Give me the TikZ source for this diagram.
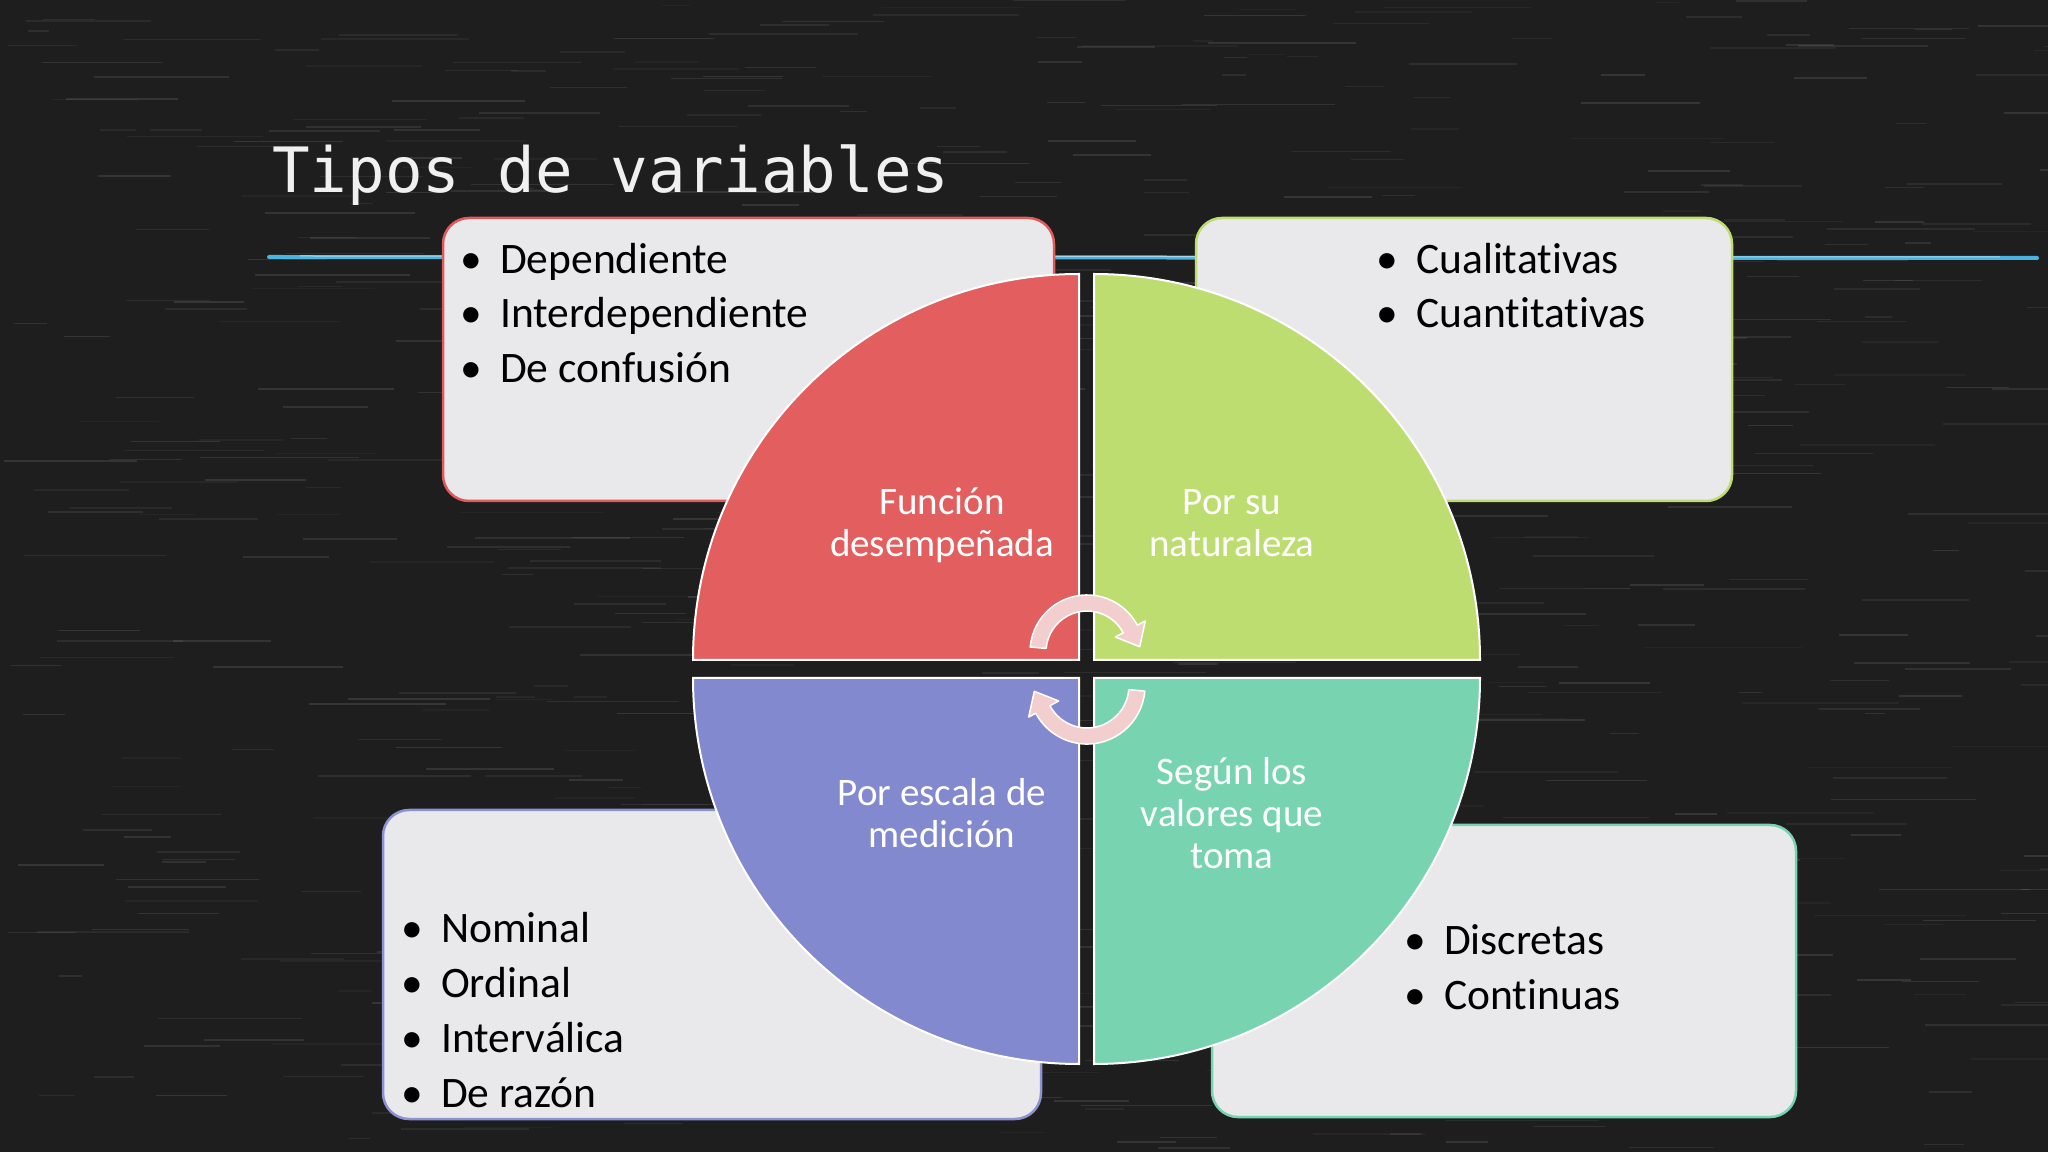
\documentclass[tikz,border=0pt]{standalone}
\usepackage{fontspec}
\setmainfont{Carlito}[Ligatures=NoCommon]
\newfontfamily\titlefont{DejaVu Sans Mono}
\definecolor{bgc}{RGB}{30,30,30}
\definecolor{redQ}{RGB}{227,94,94}
\definecolor{greenQ}{RGB}{190,221,112}
\definecolor{blueQ}{RGB}{131,137,206}
\definecolor{tealQ}{RGB}{120,212,176}
\definecolor{boxfill}{RGB}{233,233,235}
\definecolor{redB}{RGB}{224,90,90}
\definecolor{greenB}{RGB}{190,221,112}
\definecolor{blueB}{RGB}{140,145,210}
\definecolor{tealB}{RGB}{120,212,176}
\definecolor{arrowpink}{RGB}{242,206,206}
\definecolor{chalkblue}{RGB}{75,180,222}
\tikzset{
  box/.style={fill=boxfill, line width=2.5pt, rounded corners=26pt},
  item/.style={anchor=base west, inner sep=0pt, text=black, font=\fontsize{43.5}{55}\selectfont},
  qlabel/.style={align=center, text=white, inner sep=0pt, font=\fontsize{39}{42}\selectfont},
  quad/.style={draw=white, line width=2pt},
  cyc/.style={fill=arrowpink, draw=white, line width=1.5pt, line join=round},
}
\newcommand\itemnode[4]{\node[item] (#1) at (#2,#3) {\makebox[40pt][l]{\textbullet}#4};}
\begin{document}
\begin{tikzpicture}[x=1pt,y=1pt]
\useasboundingbox (0,0) rectangle (2048,1152);
% background
\fill[bgc] (0,0) rectangle (2048,1152);
\pgfmathsetseed{7}
\foreach \i in {1,...,700}{
  \pgfmathsetmacro\xx{rnd*2048}
  \pgfmathsetmacro\yy{rnd*1152}
  \pgfmathsetmacro\ll{20+rnd*140}
  \pgfmathsetmacro\oo{0.03+rnd*0.08}
  \draw[white, opacity=\oo, line width=1.5pt] (\xx,\yy) -- ++(\ll,0);
}
% title
\node[anchor=base west, inner sep=0pt, text={rgb,255:red,240;green,240;blue,240}, font=\titlefont\fontsize{62.5}{70}\selectfont] (title) at (272,959) {Tipos de variables};
% chalk line
\draw[chalkblue, line width=4pt, line cap=round] (269,895) -- (2037,894);
\draw[white, opacity=0.5, line width=1pt] (300,896) -- (2000,895);
% boxes
\node[box, draw=redB, minimum width=611pt, minimum height=283pt] (b1) at (748.5,792.5) {};
\node[box, draw=greenB, minimum width=536pt, minimum height=283pt] (b2) at (1464,792.5) {};
\node[box, draw=blueB, minimum width=658pt, minimum height=309pt] (b3) at (712,187.5) {};
\node[box, draw=tealB, minimum width=584pt, minimum height=292pt] (b4) at (1504,181) {};
% box items
\itemnode{i11}{460}{878}{Dependiente}
\itemnode{i12}{460}{824}{Interdependiente}
\itemnode{i13}{460}{769}{De confusión}
\itemnode{i21}{1376}{878}{Cualitativas}
\itemnode{i22}{1376}{824}{Cuantitativas}
\itemnode{i31}{401}{210}{Nominal}
\itemnode{i32}{401}{155}{Ordinal}
\itemnode{i33}{401}{100}{Interválica}
\itemnode{i34}{401}{45}{De razón}
\itemnode{i41}{1404}{198}{Discretas}
\itemnode{i42}{1404}{143}{Continuas}
% quadrants
\filldraw[quad, fill=redQ] (1079,492) -- (693,492) arc[start angle=180, end angle=90, radius=386] -- cycle;
\filldraw[quad, fill=greenQ] (1094,492) -- (1094,878) arc[start angle=90, end angle=0, radius=386] -- cycle;
\filldraw[quad, fill=blueQ] (1079,474) -- (693,474) arc[start angle=180, end angle=270, radius=386] -- cycle;
\filldraw[quad, fill=tealQ] (1094,474) -- (1480,474) arc[start angle=0, end angle=-90, radius=386] -- cycle;
% labels
\node[qlabel] (q1) at (942,627) {Función\\desempeñada};
\node[qlabel] (q2) at (1232,629) {Por su\\naturaleza};
\node[qlabel] (q3) at (942,339) {Por escala de\\medición};
\node[qlabel] (q4) at (1232,339) {Según los\\valores que\\toma};
% cycle arrows
\filldraw[cyc] (1030.2,505.0) arc[start angle=175, end angle=28, radius=57]
  -- (1145.3,531.0) -- (1139.7,505.3) -- (1115.3,515.0) -- (1123.2,519.2)
  arc[start angle=28, end angle=175, radius=41] -- cycle;
\filldraw[cyc] (1144.8,460.9) arc[start angle=-5, end angle=-152, radius=58]
  -- (1028.7,435.0) -- (1034.3,460.7) -- (1058.7,451.0) -- (1049.9,446.3)
  arc[start angle=-152, end angle=-5, radius=42] -- cycle;
\end{tikzpicture}
\end{document}
